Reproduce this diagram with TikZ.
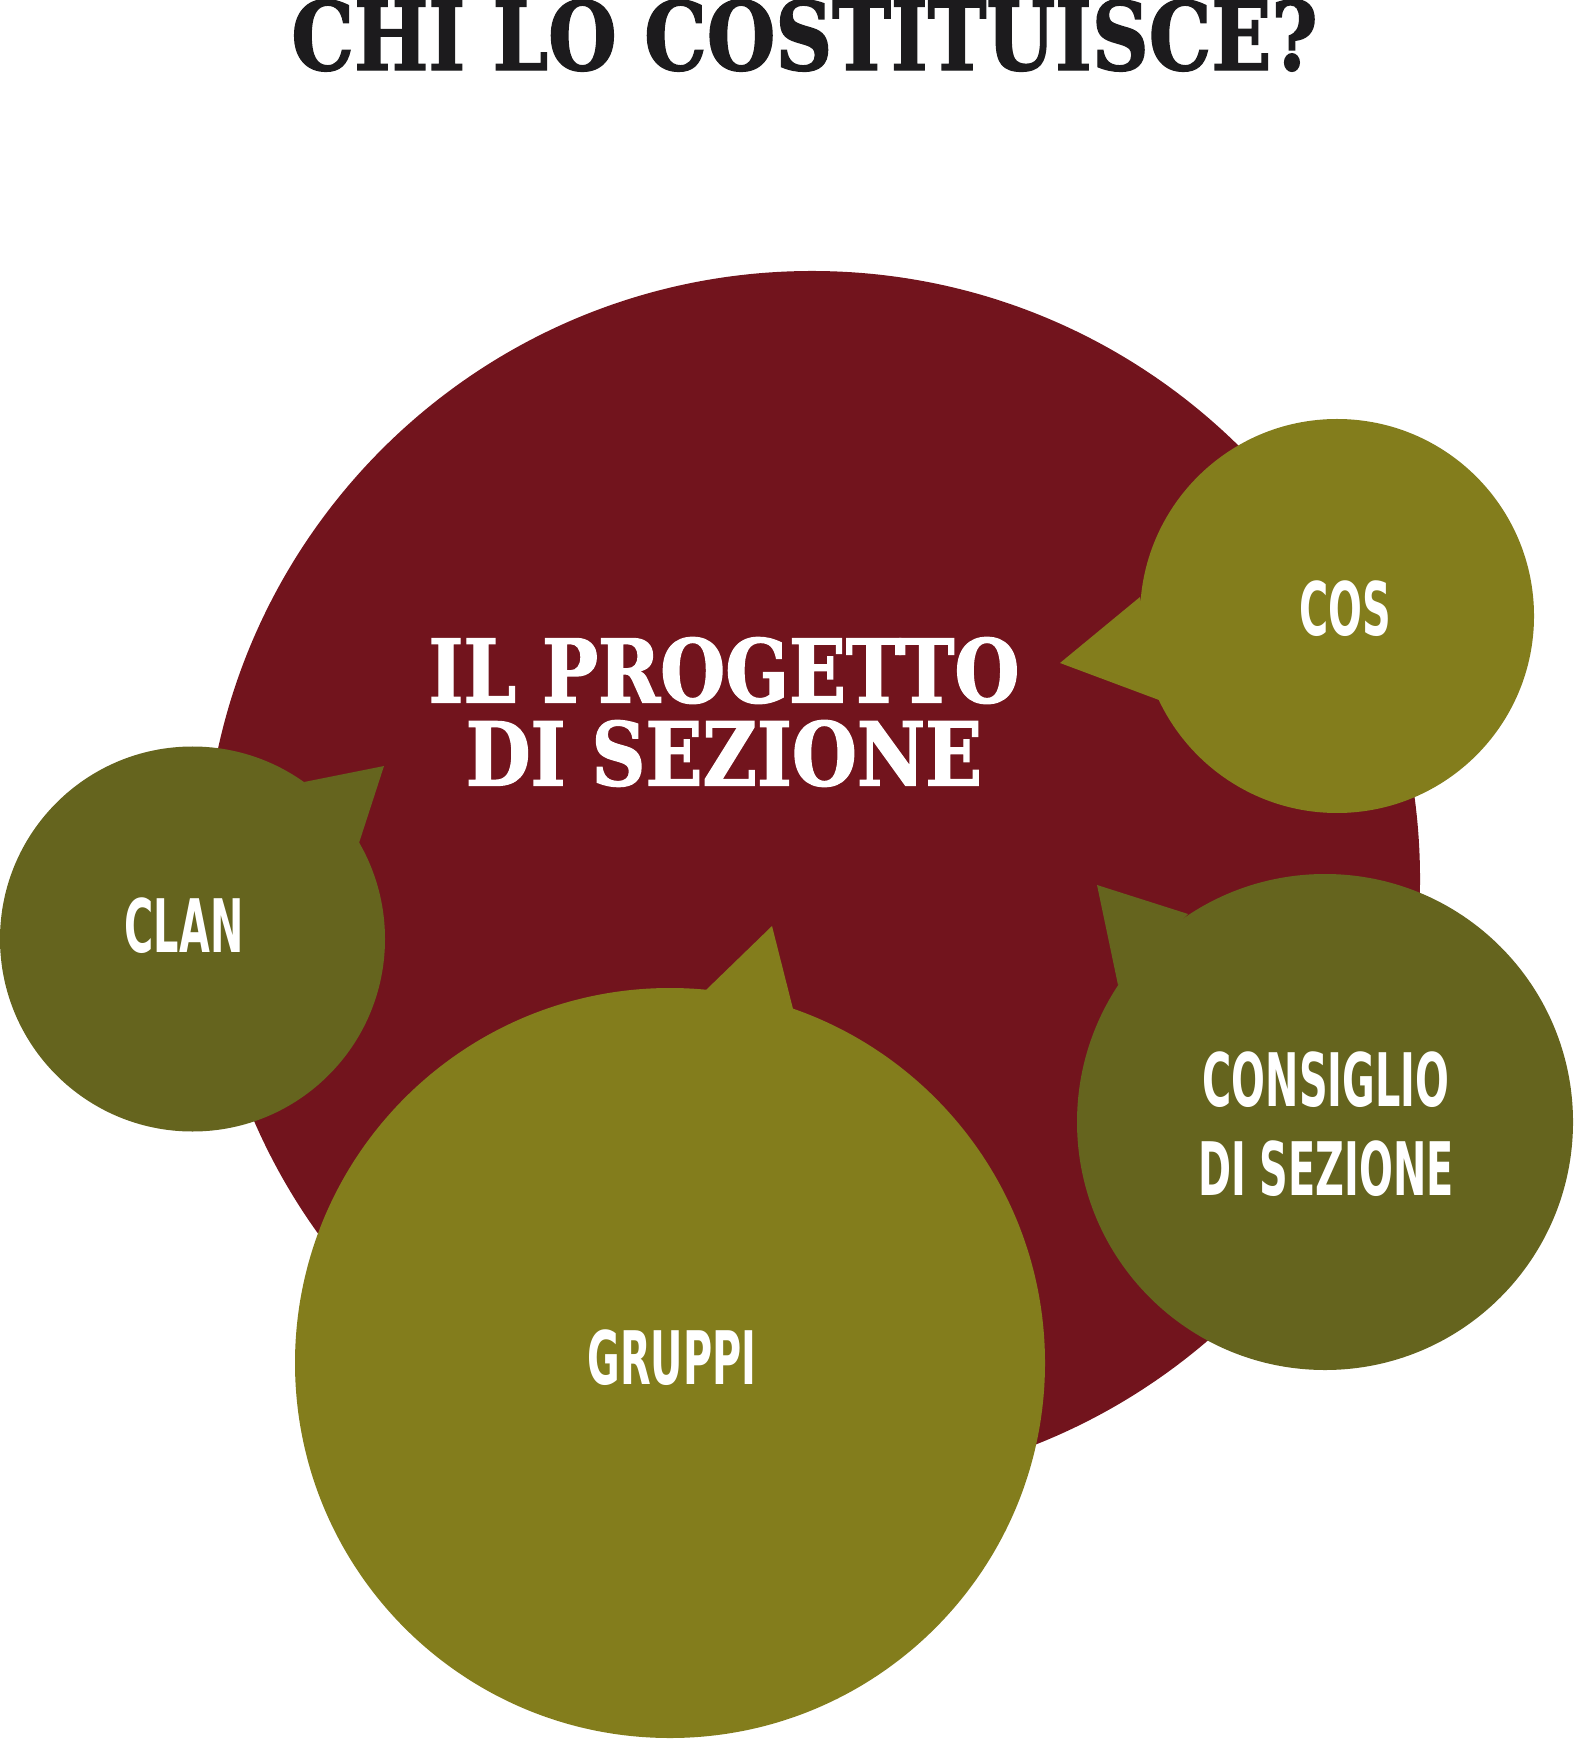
\documentclass[tikz,border=0pt]{standalone}
\usepackage{fontspec}
\newfontfamily\slabfont[FakeStretch=0.85, FakeBold=1.5]{DejaVu Serif}
\newfontfamily\titlefont[FakeStretch=0.83, FakeBold=1.5]{DejaVu Serif}
\newfontfamily\narrowfont[FakeStretch=0.6]{DejaVu Sans Condensed}
\definecolor{sezred}{RGB}{114,20,29}
\definecolor{olivelight}{RGB}{131,125,28}
\definecolor{olivedark}{RGB}{101,100,30}
\definecolor{inkblack}{RGB}{28,27,29}
\tikzset{
    bubble/.style={fill=olivelight},
    darkbubble/.style={fill=olivedark},
    tag/.style={text=white, font=\narrowfont\bfseries\fontsize{21}{25.3}\selectfont, align=center, inner sep=0pt},
    headline/.style={font=\slabfont\bfseries\fontsize{25}{23.6}\selectfont, align=center, inner sep=0pt}
}

\begin{document}
\begin{tikzpicture}
    \useasboundingbox (0,0) rectangle (15.74,-17.39);
    % Title
    \node[headline, text=inkblack, font=\titlefont\bfseries\fontsize{27}{30}\selectfont] (title) at (8.045,-0.355) {CHI LO COSTITUISCE?};
    % Main circle
    \fill[sezred] (8.12,-8.79) circle (6.08cm);
    \node[headline, text=white] (progetto) at (7.24,-7.12) {IL PROGETTO\\DI SEZIONE};
    % COS
    \fill[bubble] (13.37,-6.16) circle (1.97cm);
    \fill[bubble] (11.40,-5.97) -- (10.60,-6.63) -- (11.59,-7.00) -- cycle;
    \node[tag] (cos) at (13.45,-6.09) {COS};
    % Clan
    \fill[darkbubble] (1.925,-9.39) circle (1.925cm);
    \fill[darkbubble] (3.04,-7.82) -- (3.84,-7.66) -- (3.59,-8.43) -- cycle;
    \node[tag] (clan) at (1.84,-9.26) {CLAN};
    % Consiglio di sezione
    \fill[darkbubble] (13.25,-11.22) circle (2.48cm);
    \fill[darkbubble] (11.88,-9.14) -- (10.97,-8.85) -- (11.18,-9.85) -- cycle;
    \node[tag] (consiglio) at (13.26,-11.24) {CONSIGLIO\\DI SEZIONE};
    % Gruppi
    \fill[bubble] (6.70,-13.63) circle (3.75cm);
    \fill[bubble] (7.06,-9.90) -- (7.72,-9.26) -- (7.93,-10.09) -- cycle;
    \node[tag] (gruppi) at (6.72,-13.58) {GRUPPI};
\end{tikzpicture}
\end{document}
